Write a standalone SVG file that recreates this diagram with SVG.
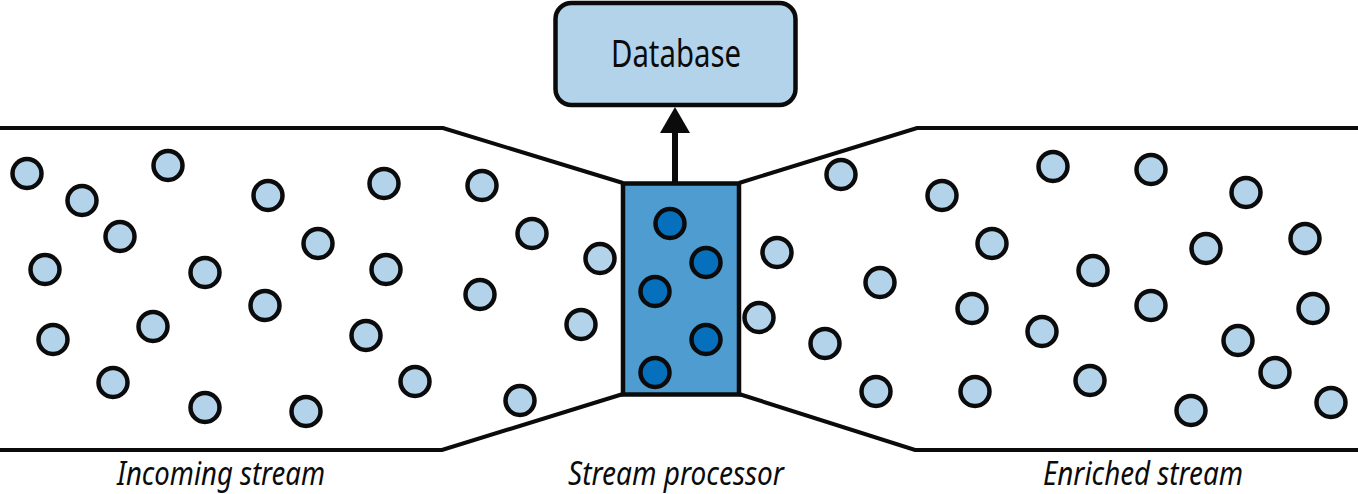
<svg xmlns="http://www.w3.org/2000/svg" width="1358" height="494" viewBox="0 0 1358 494">
<style>
.l{fill:none;stroke:#0b0b0b;stroke-width:4}
.p{fill:#b3d3eb;stroke:#0b0b0b;stroke-width:4.5}
.d{fill:#0670bd;stroke:#0b0b0b;stroke-width:4.5}
text{font-family:"Noto Sans","Open Sans",sans-serif;fill:#0b0b0b}
.c{font-style:italic;font-size:32px}
</style>
<g id="connectors">
<path class="l" d="M0 128H443L623 183"/>
<path class="l" d="M0 450H442L623 394"/>
<path class="l" d="M739 183L917 128H1358"/>
<path class="l" d="M739 394L915 450H1358"/>
<path d="M675 183V128" fill="none" stroke="#0b0b0b" stroke-width="6"/>
<path d="M675 107L690 133H660Z" fill="#0b0b0b"/>
</g>
<g id="database">
<rect class="p" x="555.5" y="3" width="240" height="102" rx="16"/>
<text x="676" y="67" font-size="38" text-anchor="middle" textLength="130" lengthAdjust="spacingAndGlyphs">Database</text>
</g>
<g id="processor">
<rect x="623" y="183.5" width="116" height="211" fill="#4f9cd0" stroke="#0b0b0b" stroke-width="4.5"/>
<g id="processor-events">
<circle class="d" cx="670" cy="223.5" r="14.5"/>
<circle class="d" cx="706" cy="262.5" r="14.5"/>
<circle class="d" cx="655" cy="291.5" r="14.5"/>
<circle class="d" cx="706" cy="339.5" r="14.5"/>
<circle class="d" cx="655" cy="372.5" r="14.5"/>
</g>
</g>
<g id="incoming-events">
<circle class="p" cx="27" cy="173.5" r="14.5"/>
<circle class="p" cx="82" cy="200.5" r="14.5"/>
<circle class="p" cx="168" cy="165.5" r="14.5"/>
<circle class="p" cx="268" cy="195.5" r="14.5"/>
<circle class="p" cx="384" cy="183.5" r="14.5"/>
<circle class="p" cx="482" cy="185.5" r="14.5"/>
<circle class="p" cx="120" cy="236.5" r="14.5"/>
<circle class="p" cx="532" cy="233.5" r="14.5"/>
<circle class="p" cx="318" cy="243.5" r="14.5"/>
<circle class="p" cx="45" cy="269.5" r="14.5"/>
<circle class="p" cx="205" cy="272.5" r="14.5"/>
<circle class="p" cx="386" cy="269.5" r="14.5"/>
<circle class="p" cx="600" cy="258.5" r="14.5"/>
<circle class="p" cx="480" cy="294.5" r="14.5"/>
<circle class="p" cx="265" cy="305.5" r="14.5"/>
<circle class="p" cx="153" cy="326.5" r="14.5"/>
<circle class="p" cx="53" cy="339.5" r="14.5"/>
<circle class="p" cx="366" cy="335.5" r="14.5"/>
<circle class="p" cx="581" cy="324.5" r="14.5"/>
<circle class="p" cx="113" cy="382.5" r="14.5"/>
<circle class="p" cx="415" cy="381.5" r="14.5"/>
<circle class="p" cx="205" cy="407.5" r="14.5"/>
<circle class="p" cx="306" cy="411.5" r="14.5"/>
<circle class="p" cx="520" cy="400.5" r="14.5"/>
</g>
<g id="enriched-events">
<circle class="p" cx="841" cy="174.5" r="14.5"/>
<circle class="p" cx="942" cy="195.5" r="14.5"/>
<circle class="p" cx="1053" cy="166.5" r="14.5"/>
<circle class="p" cx="1151" cy="169.5" r="14.5"/>
<circle class="p" cx="1246" cy="192.5" r="14.5"/>
<circle class="p" cx="777" cy="252.5" r="14.5"/>
<circle class="p" cx="992" cy="243.5" r="14.5"/>
<circle class="p" cx="1206" cy="248.5" r="14.5"/>
<circle class="p" cx="1305" cy="238.5" r="14.5"/>
<circle class="p" cx="880" cy="282.5" r="14.5"/>
<circle class="p" cx="1093" cy="270.5" r="14.5"/>
<circle class="p" cx="972" cy="308.5" r="14.5"/>
<circle class="p" cx="1151" cy="305.5" r="14.5"/>
<circle class="p" cx="1313" cy="308.5" r="14.5"/>
<circle class="p" cx="759" cy="317.5" r="14.5"/>
<circle class="p" cx="1042" cy="331.5" r="14.5"/>
<circle class="p" cx="1238" cy="340.5" r="14.5"/>
<circle class="p" cx="825" cy="343.5" r="14.5"/>
<circle class="p" cx="1275" cy="372.5" r="14.5"/>
<circle class="p" cx="1090" cy="380.5" r="14.5"/>
<circle class="p" cx="876" cy="391.5" r="14.5"/>
<circle class="p" cx="975" cy="391.5" r="14.5"/>
<circle class="p" cx="1331" cy="402.5" r="14.5"/>
<circle class="p" cx="1191" cy="410.5" r="14.5"/>
</g>
<g id="labels">
<text class="c" x="221" y="485" text-anchor="middle" textLength="208" lengthAdjust="spacingAndGlyphs">Incoming stream</text>
<text class="c" x="676" y="485" text-anchor="middle" textLength="216" lengthAdjust="spacingAndGlyphs">Stream processor</text>
<text class="c" x="1143" y="485" text-anchor="middle" textLength="200" lengthAdjust="spacingAndGlyphs">Enriched stream</text>
</g>
</svg>
